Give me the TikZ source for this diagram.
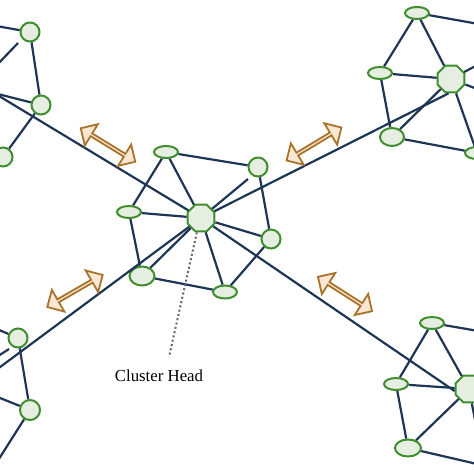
\documentclass[tikz,border=0pt]{standalone}
\usepackage{fontspec}
\setmainfont{Liberation Serif}
\usetikzlibrary{shapes.geometric,shapes.arrows}
\definecolor{edgecol}{HTML}{1E3556}
\definecolor{nodeline}{HTML}{3E8E2E}
\definecolor{nodefill}{HTML}{E6EEE2}
\definecolor{arrline}{HTML}{A8742C}
\definecolor{arrfill}{HTML}{FCE6D4}
\begin{document}
\begin{tikzpicture}[x=1pt,y=-1pt,
  elly/.style={draw=nodeline,fill=nodefill,line width=2pt,ellipse,inner sep=0,minimum width=24pt,minimum height=12pt},
  circ/.style={draw=nodeline,fill=nodefill,line width=2pt,circle,inner sep=0,minimum size=19pt},
  hub/.style={draw=nodeline,fill=nodefill,line width=2pt,regular polygon,regular polygon sides=8,inner sep=0,minimum size=29pt},
  link/.style={draw=edgecol,line width=2.2pt},
  swap/.style={draw=arrline,fill=arrfill,line width=1.8pt,double arrow,inner sep=0,minimum width=25pt,double arrow head extend=6pt,minimum height=64pt}]
\useasboundingbox (0,0) rectangle (474,474);
\clip (0,0) rectangle (474,474);
% centre cluster
\node[hub] (cH) at (201,218) {};
\node[elly] (cT) at (166,152) {};
\node[circ] (cTR) at (258,167) {};
\node[elly] (cL) at (129,212) {};
\node[circ] (cR) at (271,239) {};
\node[elly,minimum height=19pt,minimum width=25pt] (cBL) at (142,276) {};
\node[elly,minimum height=13pt] (cB) at (225,292) {};
\coordinate (cS) at (248,179);
% top left cluster
\node[circ] (tlA) at (30,32) {};
\node[circ] (tlB) at (41,105) {};
\node[circ] (tlC) at (3,157) {};
\coordinate (tlH) at (-6,93);
\coordinate (tlP) at (-15,24);
\coordinate (tlS1) at (18,43);
\coordinate (tlS2) at (-5,67);
% top right cluster
\node[hub] (trH) at (451,79) {};
\node[elly] (trT) at (417,13) {};
\node[elly] (trL) at (380,73) {};
\node[elly,minimum height=18pt] (trBL) at (392,137) {};
\node[elly] (trBR) at (477,153) {};
\coordinate (trP1) at (490,26);
\coordinate (trP2) at (485,61);
\coordinate (trP3) at (485,92);
% bottom right cluster
\node[hub] (brH) at (469,389) {};
\node[elly] (brT) at (432,323) {};
\node[elly] (brL) at (396,384) {};
\node[elly,minimum height=17pt,minimum width=26pt] (brB) at (408,448) {};
\coordinate (brP1) at (490,333);
\coordinate (brP2) at (490,467);
\coordinate (brP3) at (477,430);
% bottom left cluster
\node[circ] (blA) at (18,338) {};
\node[circ,minimum size=20pt] (blB) at (30,410) {};
\coordinate (blH) at (-12,376);
\coordinate (blP1) at (-15,324);
\coordinate (blP2) at (-15,392);
\coordinate (blP3) at (-10,473);
\coordinate (blS1) at (9,349);
\coordinate (blS2) at (-5,358);
% links
\path[link] (cT) -- (cTR);
\path[link] (cT) -- (cH);
\path[link] (cT) -- (cL);
\path[link] (cL) -- (cH);
\path[link] (cL) -- (cBL);
\path[link] (cBL) -- (cB);
\path[link] (cB) -- (cR);
\path[link] (cR) -- (cTR);
\path[link] (cH) -- (cR);
\path[link] (cH) -- (cB);
\path[link] (cH) -- (cBL);
\path[link] (cH) -- (cS);
\path[link] (tlP) -- (tlA);
\path[link] (tlA) -- (tlB);
\path[link] (tlH) -- (tlB);
\path[link] (tlB) -- (tlC);
\path[link] (tlS1) -- (tlS2);
\path[link] (trT) -- (trP1);
\path[link] (trT) -- (trL);
\path[link] (trT) -- (trH);
\path[link] (trL) -- (trH);
\path[link] (trL) -- (trBL);
\path[link] (trBL) -- (trH);
\path[link] (trBL) -- (trBR);
\path[link] (trH) -- (trBR);
\path[link] (trH) -- (trP2);
\path[link] (trH) -- (trP3);
\path[link] (brT) -- (brP1);
\path[link] (brT) -- (brL);
\path[link] (brT) -- (brH);
\path[link] (brL) -- (brH);
\path[link] (brL) -- (brB);
\path[link] (brB) -- (brH);
\path[link] (brB) -- (brP2);
\path[link] (brH) -- (brP3);
\path[link] (blP1) -- (blA);
\path[link] (blA) -- (blB);
\path[link] (blP2) -- (blB);
\path[link] (blB) -- (blP3);
\path[link] (blS1) -- (blS2);
% long links between heads
\path[link] (tlH) -- (cH);
\path[link] (cH) -- (trH.260);
\path[link] (cH) -- (brH.188);
\path[link] (cH) -- (blH);
% arrows
\node[swap,rotate=-31.5] (arTL) at (108,145) {};
\node[swap,rotate=31] (arTR) at (314,144) {};
\node[swap,rotate=30] (arBL) at (75,291) {};
\node[swap,rotate=-32.5] (arBR) at (345,294) {};
% label
\node[font=\fontsize{16.8}{20}\selectfont] (lbl) at (159,376) {Cluster Head};
\coordinate (lblTip) at (169,357);
\path[draw=black!60,line width=2pt,dash pattern=on 2pt off 2.4pt] (cH.254) -- (lblTip);
\end{tikzpicture}
\end{document}
